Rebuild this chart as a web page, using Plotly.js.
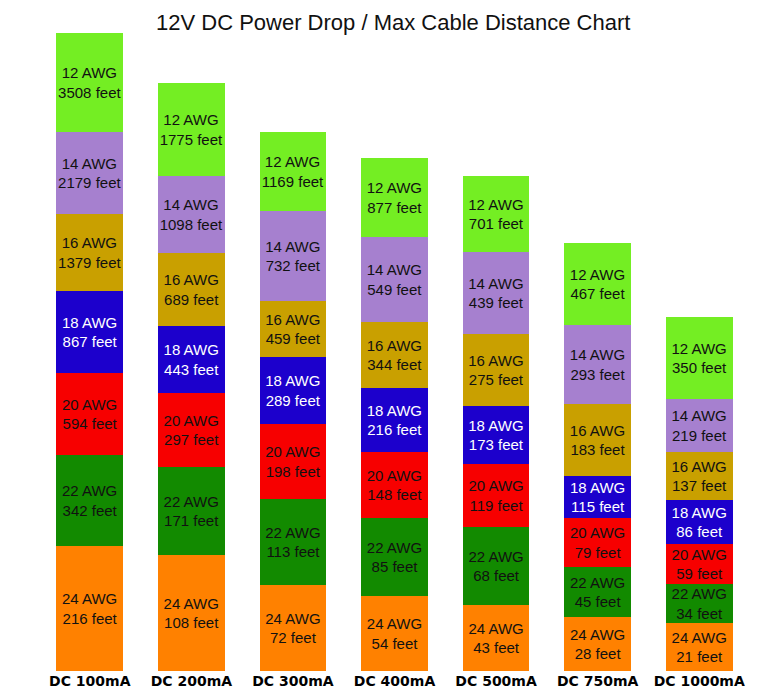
<!DOCTYPE html>
<html>
<head>
<meta charset="utf-8">
<script src="https://cdn.plot.ly/plotly-3.0.1.min.js"></script>
<style>html,body{margin:0;padding:0;background:#fff;}#chart{width:768px;height:691px;}</style>
</head>
<body>
<div id="chart"></div>
<script>
// Categories (current draw)
const currents = ["DC 100mA", "DC 200mA", "DC 300mA", "DC 400mA", "DC 500mA", "DC 750mA", "DC 1000mA"];
// Wire gauges, bottom to top of each stack
const gauges = ["24 AWG", "22 AWG", "20 AWG", "18 AWG", "16 AWG", "14 AWG", "12 AWG"];

// Max cable distance (feet) shown in each segment
const feet24 = [216, 108, 72, 54, 43, 28, 21];
const feet22 = [342, 171, 113, 85, 68, 45, 34];
const feet20 = [594, 297, 198, 148, 119, 79, 59];
const feet18 = [867, 443, 289, 216, 173, 115, 86];
const feet16 = [1379, 689, 459, 344, 275, 183, 137];
const feet14 = [2179, 1098, 732, 549, 439, 293, 219];
const feet12 = [3508, 1775, 1169, 877, 701, 467, 350];

// Drawn segment heights (arbitrary units, read from the picture; not proportional to feet)
const seg24 = [125, 116, 86, 75, 66, 54, 48];
const seg22 = [91, 88, 86, 78, 78, 50, 39];
const seg20 = [82, 74, 75, 66, 63, 49, 40];
const seg18 = [82, 67, 67, 64, 58, 42, 44];
const seg16 = [77, 73, 56, 66, 72, 72, 48];
const seg14 = [82, 77, 90, 85, 82, 79, 53];
const seg12 = [99, 93, 79, 79, 76, 82, 82];

const feetSets = [feet24, feet22, feet20, feet18, feet16, feet14, feet12];
const segSets = [seg24, seg22, seg20, seg18, seg16, seg14, seg12];
const colors = ["#FF8100", "#128A00", "#F70000", "#1C00CC", "#C9A000", "#A680CF", "#74EE23"];
const textColors = ["#111", "#111", "#111", "#fff", "#111", "#111", "#111"];

const traces = gauges.map((g, i) => ({
  type: "bar",
  name: g,
  x: currents,
  y: segSets[i],
  text: feetSets[i].map(v => g + "<br>" + v + " feet"),
  textposition: "inside",
  insidetextanchor: "middle",
  textangle: 0,
  constraintext: "none",
  insidetextfont: {family: "Liberation Sans, Arial, sans-serif", size: 15, color: textColors[i]},
  marker: {color: colors[i], line: {width: 0}},
  hoverinfo: "none"
}));

const layout = {
  width: 768, height: 691,
  margin: {l: 39, r: 18, t: 31, b: 20},
  barmode: "stack",
  bargap: 0.343,
  showlegend: false,
  paper_bgcolor: "#fff",
  plot_bgcolor: "#fff",
  title: {
    text: "12V DC Power Drop / Max Cable Distance Chart",
    font: {family: "Liberation Sans, Arial, sans-serif", size: 22, color: "#111"},
    x: 0.512, xref: "container", xanchor: "center",
    y: 0.968, yref: "container", yanchor: "middle"
  },
  xaxis: {
    type: "category",
    showgrid: false, zeroline: false, showline: false, ticks: "",
    automargin: false,
    tickfont: {family: "DejaVu Sans, Verdana, sans-serif", size: 14, color: "#000", weight: "bold"}
  },
  yaxis: {
    range: [0, 640],
    visible: false, showgrid: false, zeroline: false, automargin: false
  }
};

Plotly.newPlot("chart", traces, layout, {displayModeBar: false, staticPlot: true});
</script>
</body>
</html>
